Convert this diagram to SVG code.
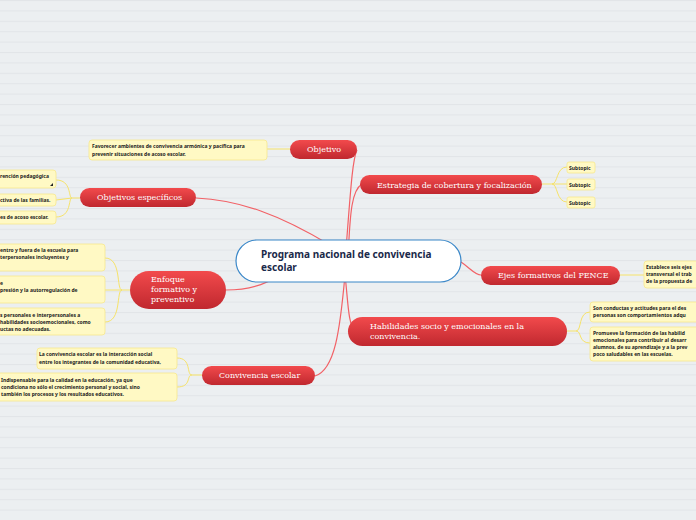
<svg xmlns="http://www.w3.org/2000/svg" width="696" height="520" viewBox="0 0 696 520">
<defs>
<pattern id="bg" width="10" height="10.4" patternUnits="userSpaceOnUse"><rect width="10" height="10.4" fill="#eceff1"/><line x1="0" y1="0.5" x2="10" y2="0.5" stroke="#e2e5e8" stroke-width="1"/></pattern>
<linearGradient id="rg" x1="0" y1="0" x2="0" y2="1"><stop offset="0" stop-color="#f24a4c"/><stop offset="1" stop-color="#c0282f"/></linearGradient>
<style>
.n rect{fill:url(#rg)}
.n text{fill:#fff;font-family:"DejaVu Serif","Liberation Serif",serif;font-size:8px}
.t rect{fill:#fff9c4;stroke:#f7e98d;stroke-width:0.8}
.t text{fill:#222;font-family:"Noto Sans","Liberation Sans",sans-serif;font-size:5px;font-weight:bold}
.r{fill:none;stroke:#f26166;stroke-width:1.2}
.y{fill:none;stroke:#f6e36a;stroke-width:1}
</style>
</defs>
<rect width="696" height="520" fill="url(#bg)"/>
<g id="connectors">
<path class="r" d="M345,262 C350,200 352,160 357,150"/>
<path class="r" d="M330,245 C280,215 240,200 196,198"/>
<path class="r" d="M300,262 C270,285 250,290 226,290"/>
<path class="r" d="M345,275 C340,330 335,370 315,376"/>
<path class="r" d="M348,260 C350,210 352,190 362,184"/>
<path class="r" d="M461,262 C470,268 475,275 481,275"/>
<path class="r" d="M345,275 C348,300 348,325 355,331"/>
<path class="y" d="M290,149 L267,149"/>
<path class="y" d="M80,198 L72,198 C68,198 72,180 56,180 M72,198 L56,200 M72,198 C68,198 72,217 56,217"/>
<path class="y" d="M130,290 L122,290 C116,290 122,258 105,258 M122,290 L105,290 M122,290 C116,290 122,322 105,322"/>
<path class="y" d="M202,375 L192,375 C186,375 192,358 177,358 M192,375 C186,375 192,387 177,387"/>
<path class="y" d="M542,184 L552,184 C558,184 556,167 567,167 M552,184 L567,184 M552,184 C558,184 556,202 567,202"/>
<path class="y" d="M620,275 L644,275"/>
<path class="y" d="M567,331 L576,331 C582,331 578,312 590,312 M576,331 C582,331 578,343 590,343"/>
</g>
<g id="center"><rect x="236" y="240" width="225" height="42" rx="21" fill="#fff" stroke="#3a87c8" stroke-width="1.2"/><text x="261" y="258" font-family="Noto Sans,Liberation Sans,sans-serif" font-size="10" font-weight="bold" fill="#1b2a4a">Programa nacional de convivencia</text><text x="261" y="271" font-family="Noto Sans,Liberation Sans,sans-serif" font-size="10" font-weight="bold" fill="#1b2a4a">escolar</text></g>
<g id="objetivo" class="n"><rect x="290" y="140" width="67" height="19" rx="9.5"/><text x="307" y="152">Objetivo</text></g>
<g id="obj-note" class="t"><rect x="89" y="140" width="178" height="20" rx="3"/><text x="92" y="148">Favorecer ambientes de convivencia armónica y pacífica para</text><text x="92" y="156">prevenir situaciones de acoso escolar.</text></g>
<g id="especificos" class="n"><rect x="80" y="188" width="116" height="19" rx="9.5"/><text x="97" y="200">Objetivos específicos</text></g>
<g id="esp-n1" class="t"><rect x="-5" y="170" width="61" height="18" rx="3"/><text x="0" y="178">rención pedagógica</text><path d="M53,183 L53,186 L50,186Z" fill="#222"/></g>
<g id="esp-n2" class="t"><rect x="-5" y="194" width="61" height="12" rx="3"/><text x="0" y="202">ctiva de las familias.</text></g>
<g id="esp-n3" class="t"><rect x="-5" y="211" width="61" height="13" rx="3"/><text x="0" y="219">es de acoso escolar.</text></g>
<g id="enfoque" class="n"><rect x="130" y="271" width="96" height="38" rx="19"/><text x="151" y="282">Enfoque</text><text x="151" y="292">formativo y</text><text x="151" y="302">preventivo</text></g>
<g id="enf-n1" class="t"><rect x="-5" y="244" width="110" height="27" rx="3"/><text x="0" y="252">entro y fuera de la escuela para</text><text x="0" y="259">terpersonales incluyentes y</text></g>
<g id="enf-n2" class="t"><rect x="-5" y="276" width="110" height="27" rx="3"/><text x="0" y="285">e</text><text x="0" y="292">presión y la autorregulación de</text></g>
<g id="enf-n3" class="t"><rect x="-5" y="308" width="110" height="27" rx="3"/><text x="0" y="317">s personales e interpersonales a</text><text x="0" y="324">habilidades socioemocionales, como</text><text x="0" y="331">uctas no adecuadas.</text></g>
<g id="convivencia" class="n"><rect x="202" y="366" width="113" height="19" rx="9.5"/><text x="219" y="378">Convivencia escolar</text></g>
<g id="conv-n1" class="t"><rect x="37" y="348" width="140" height="21" rx="3"/><text x="39" y="356">La convivencia escolar es la interacción social</text><text x="39" y="364">entre los integrantes de la comunidad educativa,</text></g>
<g id="conv-n2" class="t"><rect x="-5" y="373" width="182" height="28" rx="3"/><text x="1" y="382">Indispensable para la calidad en la educación, ya que</text><text x="1" y="389">condiciona no sólo el crecimiento personal y social, sino</text><text x="1" y="396">también los procesos y los resultados educativos.</text></g>
<g id="estrategia" class="n"><rect x="360" y="175" width="182" height="19" rx="9.5"/><text x="377" y="188">Estrategia de cobertura y focalización</text></g>
<g id="sub1" class="t"><rect x="567" y="162" width="28" height="11" rx="2"/><text x="569" y="170">Subtopic</text></g>
<g id="sub2" class="t"><rect x="567" y="179" width="28" height="11" rx="2"/><text x="569" y="187">Subtopic</text></g>
<g id="sub3" class="t"><rect x="567" y="197" width="28" height="11" rx="2"/><text x="569" y="205">Subtopic</text></g>
<g id="ejes" class="n"><rect x="481" y="266" width="139" height="19" rx="9.5"/><text x="498" y="278">Ejes formativos del PENCE</text></g>
<g id="ejes-n" class="t"><rect x="644" y="261" width="60" height="27" rx="3"/><text x="646" y="269">Establece seis ejes</text><text x="646" y="276">transversal el trab</text><text x="646" y="283">de la propuesta de</text></g>
<g id="habilidades" class="n"><rect x="348" y="317" width="219" height="29" rx="14.5"/><text x="370" y="329">Habilidades socio y emocionales en la</text><text x="370" y="339">convivencia.</text></g>
<g id="hab-n1" class="t"><rect x="590" y="302" width="110" height="20" rx="3"/><text x="593" y="310">Son conductas y actitudes para el des</text><text x="593" y="317">personas son comportamientos adqu</text></g>
<g id="hab-n2" class="t"><rect x="590" y="327" width="110" height="34" rx="3"/><text x="593" y="335">Promueve la formación de las habilid</text><text x="593" y="342">emocionales para contribuir al desarr</text><text x="593" y="349">alumnos, de su aprendizaje y a la prev</text><text x="593" y="356">poco saludables en las escuelas.</text></g>
</svg>
